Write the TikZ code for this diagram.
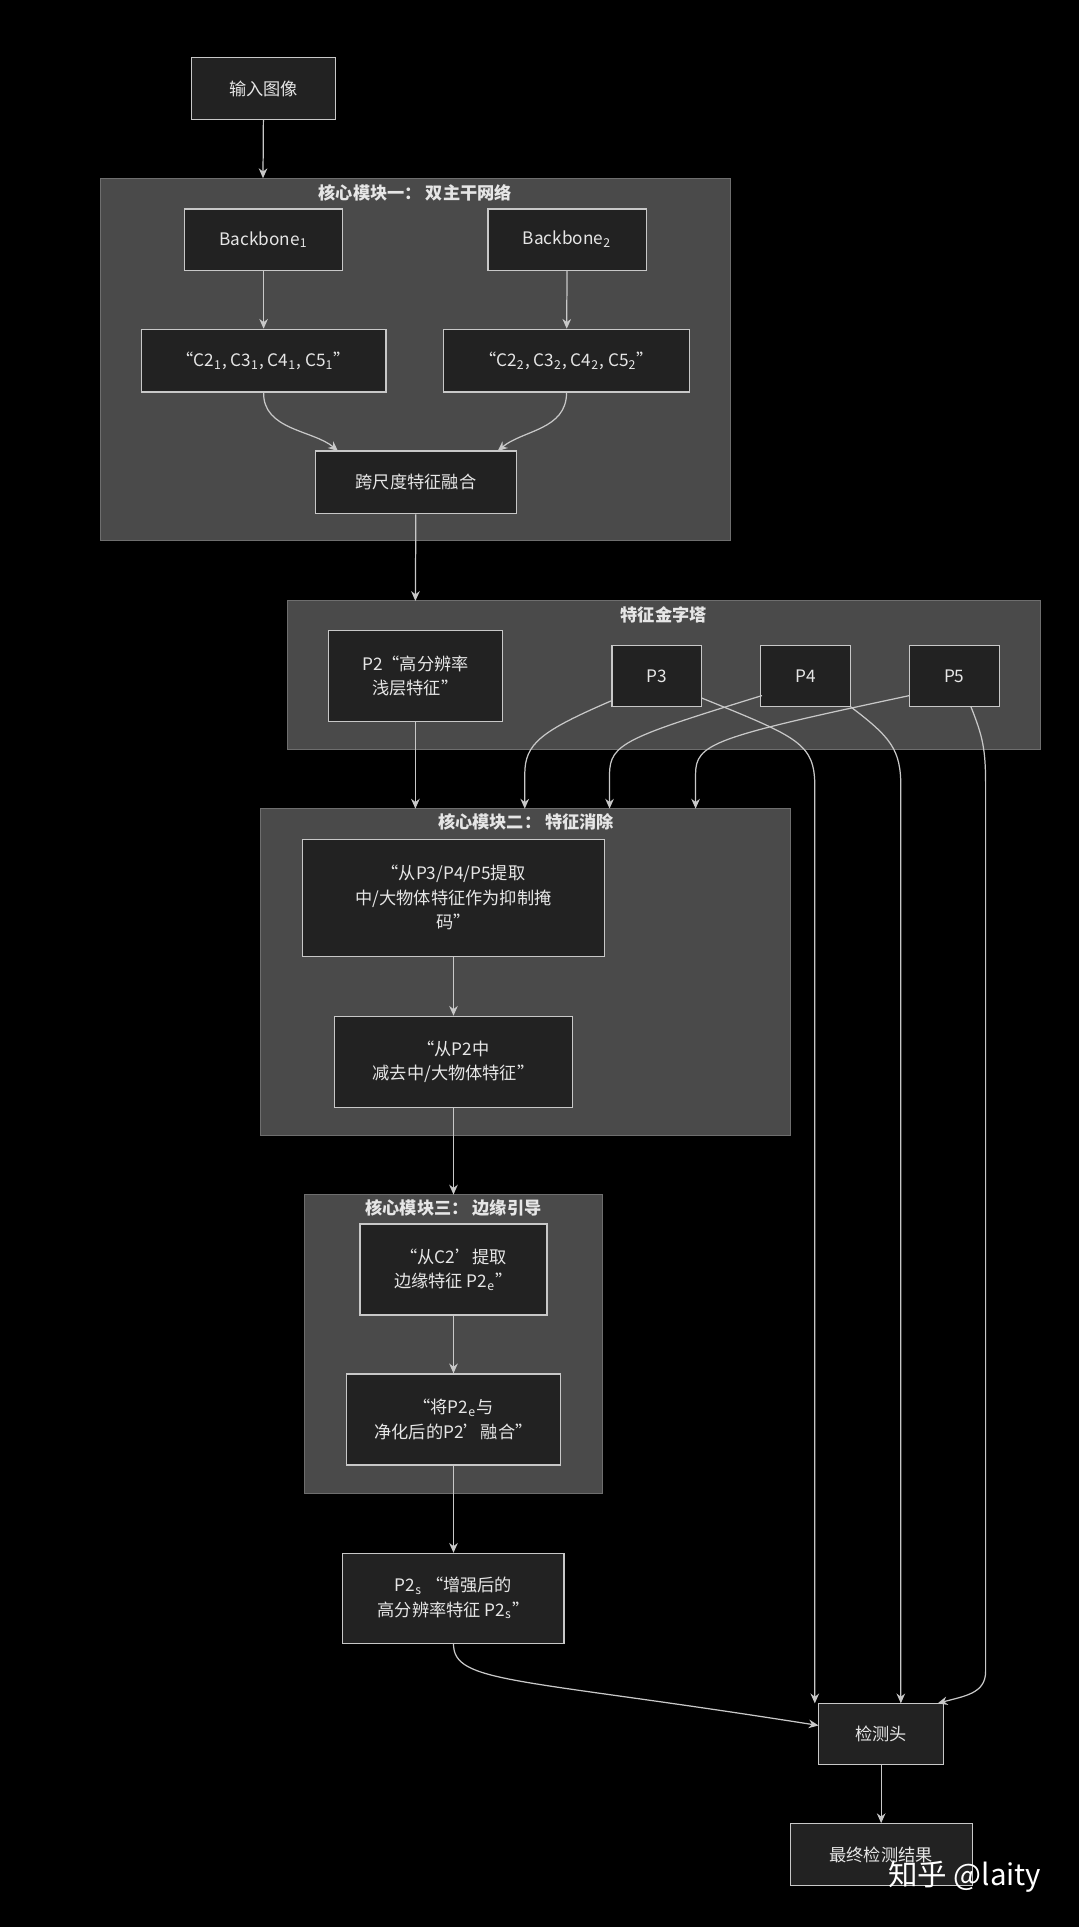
\documentclass[tikz,border=0pt]{standalone}
\usepackage{fontspec}
\setmainfont{Noto Sans CJK SC}
\usetikzlibrary{arrows.meta}
\definecolor{clu}{HTML}{4A4A4A}
\definecolor{nfill}{HTML}{222222}
\definecolor{edge}{HTML}{C8C8C8}
\definecolor{txt}{HTML}{E6E6E6}
\begin{document}
\begin{tikzpicture}[x=0.5pt,y=-0.5pt,
  nd/.style={draw=edge,fill=nfill,line width=0.5pt,text=txt,font=\fontsize{7}{10}\selectfont,align=center,inner sep=0pt},
  cl/.style={fill=clu,draw=clu!80!white,line width=0.4pt},
  ttl/.style={text=txt,font=\fontsize{7}{9}\selectfont\bfseries},
  ar/.style={draw=edge,line width=0.5pt,-{Stealth[length=4pt,width=3.5pt]}}]
\newcommand\mybox[6]{\node[nd,minimum width={(#4-#2)*0.5pt},minimum height={(#5-#3)*0.5pt}] (#1) at ({(#2+#4)/2},{(#3+#5)/2}) {#6};}
\fill[black] (0,0) rectangle (878,1568);
\useasboundingbox (0,0) rectangle (878,1568);
% clusters
\draw[cl] (82,145) rectangle (594,440);
\node[ttl] (t1) at (338,157) {核心模块一： 双主干网络};
\draw[cl] (234,489) rectangle (847,610);
\node[ttl] (t2) at (540,500) {特征金字塔};
\draw[cl] (212,658) rectangle (643,924);
\node[ttl] (t3) at (428,669) {核心模块二： 特征消除};
\draw[cl] (248,972) rectangle (490,1215);
\node[ttl] (t4) at (369,983) {核心模块三： 边缘引导};
\coordinate (c1top) at (214,145);
\coordinate (c2top) at (338,489);
\coordinate (c3top) at (338,658);
\coordinate (c4top) at (369,972);
% nodes
\mybox{in}{156}{47}{273}{97}{输入图像}
\mybox{b1}{150}{170}{279}{220}{Backbone\textsubscript{1}}
\mybox{b2}{397}{170}{526}{220}{Backbone\textsubscript{2}}
\mybox{cc1}{115}{268}{314}{319}{“C2\textsubscript{1}, C3\textsubscript{1}, C4\textsubscript{1}, C5\textsubscript{1}”}
\mybox{cc2}{361}{268}{561}{319}{“C2\textsubscript{2}, C3\textsubscript{2}, C4\textsubscript{2}, C5\textsubscript{2}”}
\mybox{fuse}{257}{367}{420}{418}{跨尺度特征融合}
\mybox{p2}{267}{513}{409}{587}{P2“高分辨率\\浅层特征”}
\mybox{p3}{498}{525}{571}{575}{P3}
\mybox{p4}{619}{525}{692}{575}{P4}
\mybox{p5}{740}{525}{813}{575}{P5}
\mybox{m1}{246}{683}{492}{778}{“从P3/P4/P5提取\\中/大物体特征作为抑制掩\\码”}
\mybox{m2}{272}{827}{466}{901}{“从P2中\\减去中/大物体特征”}
\mybox{e1}{293}{996}{445}{1070}{“从C2'提取\\边缘特征 P2\textsubscript{e}”}
\mybox{e2}{282}{1118}{456}{1192}{“将P2\textsubscript{e}与\\净化后的P2'融合”}
\mybox{p2s}{279}{1264}{459}{1337}{P2\textsubscript{s} “增强后的\\高分辨率特征 P2\textsubscript{s}”}
\mybox{det}{666}{1386}{768}{1436}{检测头}
\mybox{fin}{643}{1484}{791}{1534}{最终检测结果}
% edges
\draw[ar] (in) -- (c1top);
\draw[ar] (b1) -- (cc1);
\draw[ar] (b2) -- (cc2);
\draw[ar] (cc1.south) .. controls (214,350) and (255,350) .. (275,367);
\draw[ar] (cc2.south) .. controls (461,350) and (425,350) .. (405,367);
\draw[ar] (fuse) -- (c2top);
\draw[ar] (p2) -- (c3top);
\draw[ar] (498,570) .. controls (440,595) and (427,605) .. (427,630) -- (427,658);
\draw[ar] (620,566) .. controls (510,600) and (496,605) .. (496,630) -- (496,658);
\draw[ar] (740,566) .. controls (580,600) and (566,605) .. (566,630) -- (566,658);
\draw[ar] (571,568) .. controls (650,600) and (663,605) .. (663,640) -- (663,1386);
\draw[ar] (692,575) .. controls (725,600) and (733,610) .. (733,640) -- (733,1386);
\draw[ar] (790,575) .. controls (800,600) and (802,610) .. (802,640) -- (802,1360) .. controls (802,1378) and (785,1380) .. (763,1386);
\draw[ar] (m1) -- (m2);
\draw[ar] (m2) -- (c4top);
\draw[ar] (e1) -- (e2);
\draw[ar] (e2) -- (p2s);
\draw[ar] (p2s.south) .. controls (369,1370) and (420,1365) .. (666,1404);
\draw[ar] (det) -- (fin);
\node[text=white,font=\fontsize{12}{14}\selectfont] (wm) at (785,1527) {知乎 @laity};
\end{tikzpicture}
\end{document}
